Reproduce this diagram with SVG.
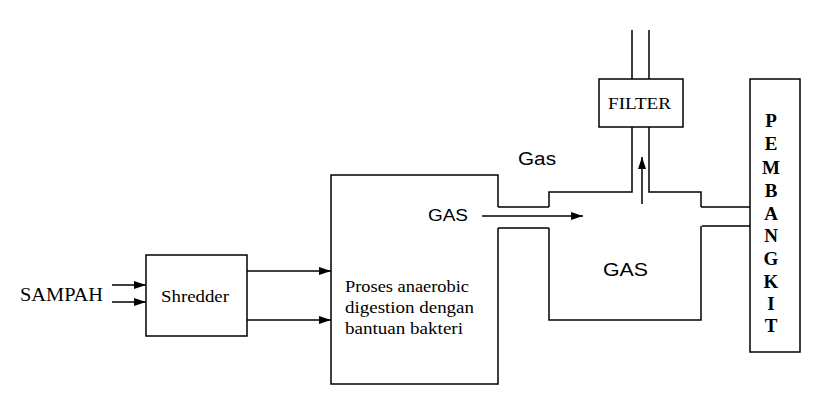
<svg xmlns="http://www.w3.org/2000/svg" width="833" height="410" viewBox="0 0 833 410">
<style>
.b{fill:none;stroke:#000;stroke-width:1.5}
.l{fill:none;stroke:#000;stroke-width:1.5}
.a{fill:none;stroke:#000;stroke-width:1.5;marker-end:url(#ah)}
text{font-family:"Liberation Serif",serif;fill:#000}
.s{font-family:"Liberation Sans",Arial,sans-serif}
</style>
<defs><marker id="ah" markerWidth="12" markerHeight="8" refX="12" refY="4" orient="auto" markerUnits="userSpaceOnUse"><path d="M0,0L12,4L0,8z" fill="#000"/></marker></defs>
<rect width="833" height="410" fill="#fff"/>
<g id="sampah"><text x="20" y="301" font-size="18" textLength="83" lengthAdjust="spacingAndGlyphs">SAMPAH</text></g>
<g id="shredder"><rect class="b" x="146" y="255" width="101" height="81"/><text x="161" y="302" font-size="16" textLength="68" lengthAdjust="spacingAndGlyphs">Shredder</text></g>
<g id="digester"><path class="l" d="M498,207V175H331V384H498V228"/>
<text font-size="16"><tspan x="345" y="292" textLength="124" lengthAdjust="spacingAndGlyphs">Proses anaerobic</tspan></text>
<text font-size="16"><tspan x="345" y="313" textLength="129" lengthAdjust="spacingAndGlyphs">digestion dengan</tspan></text>
<text font-size="16"><tspan x="345" y="334" textLength="118" lengthAdjust="spacingAndGlyphs">bantuan bakteri</tspan></text>
<text class="s" x="428" y="221" font-size="16" textLength="40" lengthAdjust="spacingAndGlyphs">GAS</text></g>
<g id="tank"><path class="l" d="M549,207V192H632V127M649,127V192H701V207M701,226V320H549V228"/><text class="s" x="603" y="276" font-size="18" textLength="45" lengthAdjust="spacingAndGlyphs">GAS</text></g>
<g id="filter"><rect class="b" x="599" y="79" width="84" height="48"/><text x="608" y="109" font-size="16" textLength="63" lengthAdjust="spacingAndGlyphs">FILTER</text><path class="l" d="M632,30V79M649,30V79"/></g>
<g id="pembangkit"><rect class="b" x="750" y="79" width="50" height="273"/>
<text font-size="19" font-weight="bold" text-anchor="middle"><tspan x="771" y="127">P</tspan><tspan x="771" y="150">E</tspan><tspan x="771" y="174">M</tspan><tspan x="771" y="197">B</tspan><tspan x="771" y="220">A</tspan><tspan x="771" y="242">N</tspan><tspan x="771" y="265">G</tspan><tspan x="771" y="288">K</tspan><tspan x="771" y="310">I</tspan><tspan x="771" y="332">T</tspan></text></g>
<g id="labels"><text class="s" x="518" y="165" font-size="18" textLength="38" lengthAdjust="spacingAndGlyphs">Gas</text></g>
<g id="connectors">
<path class="a" d="M112,285H146"/><path class="a" d="M112,302H146"/>
<path class="a" d="M247,271H331"/><path class="a" d="M247,320H331"/>
<path class="l" d="M498,207H549M498,228H549M701,207H750M702,226H750"/>
<path class="a" d="M482,216H583"/>
<path class="a" d="M642,204V157"/>
</g>
</svg>
